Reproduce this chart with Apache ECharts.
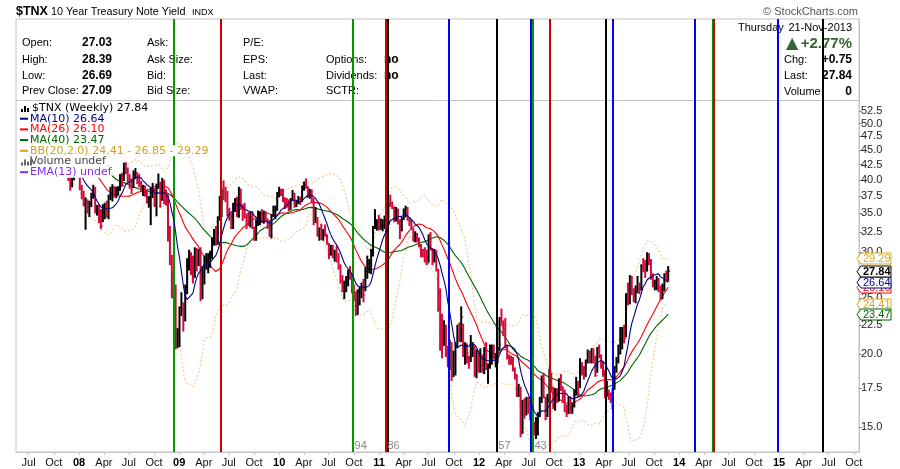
<!DOCTYPE html>
<html><head><meta charset="utf-8">
<script src="https://cdn.jsdelivr.net/npm/echarts@6/dist/echarts.min.js"></script>
<style>html,body{margin:0;padding:0;background:#fff}#c{width:900px;height:469px}</style>
</head><body><div id="c"></div>
<script>
// ---------------- DATA ----------------
// weekly bars, one per Friday starting 2007-11-16 ; values = yield x 10
const firstWeek = Date.UTC(2007, 10, 16);
// closes of the 40 weeks before the first visible bar (indicator warm-up)
const warmupCloses = [47.9,46.9,46.8,45.1,45.9,45.4,45.9,46.5,47.4,47.6,46.7,46.9,46.4,46.7,48.1,48.6,49.5,51.1,51.6,51.4,50.3,51.9,51.0,49.5,47.9,47.4,47.9,46.8,46.2,45.4,43.8,44.7,46.2,45.9,46.4,46.7,44.0,43.8,43.1,42.2];

const highs = [
  42.7,41.7,40.6,41.6,42.8,42.5,43.0,
  40.8,39.2,38.3,37.3,37.0,36.8,38.0,39.2,38.9,36.2,36.3,35.6,36.3,36.5,36.8,37.7,38.9,39.3,39.0,38.9,39.0,40.9,41.1,42.8,42.9,42.0,40.9,40.2,41.5,41.9,41.2,40.9,39.8,39.2,39.1,38.5,37.5,38.8,39.5,38.7,39.4,41.0,39.7,40.3,40.0,38.5,37.7,33.3,29.7,27.8,26.4,22.2,
  24.2,25.6,24.6,26.4,29.3,30.3,30.0,29.6,30.6,30.5,30.4,30.6,28.4,29.6,29.9,29.9,30.2,31.8,32.9,33.3,34.6,37.5,38.6,39.9,38.9,38.3,35.8,35.0,36.5,37.2,37.4,38.9,38.6,36.3,36.5,35.0,35.2,35.2,35.3,33.2,34.2,35.4,35.3,35.6,35.4,35.3,34.3,34.1,34.9,36.1,36.1,38.1,
  38.9,38.6,38.6,37.3,37.2,37.0,37.2,38.4,38.0,36.9,37.5,37.4,39.1,39.7,40.2,39.0,38.6,38.5,37.2,35.9,34.5,33.1,33.6,32.9,33.5,32.2,31.1,30.9,30.9,30.3,30.8,29.9,28.6,27.4,26.8,27.3,28.0,28.4,27.5,26.4,25.7,25.9,26.2,26.6,27.0,28.3,29.6,29.2,30.4,33.3,35.6,34.2,34.8,
  34.3,34.2,34.7,34.8,36.6,37.7,36.7,36.0,35.9,35.7,34.2,34.5,35.7,36.1,35.9,34.5,34.2,33.0,32.6,32.4,31.8,31.0,30.4,30.6,30.3,32.2,32.5,30.5,30.4,30.3,28.1,26.0,23.5,22.9,22.5,20.7,21.2,21.0,20.3,21.0,22.5,22.7,24.2,22.6,21.0,20.9,19.9,21.6,21.0,20.7,20.4,20.3,
  20.5,20.0,20.6,21.0,19.3,20.8,20.8,20.8,20.1,20.6,23.2,24.0,22.9,23.1,20.8,20.0,19.9,19.8,19.0,18.5,17.8,17.6,16.7,16.8,16.9,16.9,16.7,15.7,15.3,15.6,15.9,16.9,18.4,18.6,16.9,17.1,18.9,18.6,17.6,17.5,17.5,18.2,18.5,17.6,17.4,16.4,16.9,16.9,16.5,17.4,18.3,18.0,
  19.7,19.4,19.1,19.6,20.4,20.3,20.5,20.5,19.9,20.6,20.8,20.0,19.5,18.8,18.0,17.4,17.2,17.5,19.1,19.8,20.8,22.3,22.3,22.5,25.5,26.6,27.4,27.3,26.0,26.3,27.3,26.6,28.6,29.3,29.1,30.0,29.9,29.2,27.6,26.9,27.3,27.1,26.3,26.5,27.6,27.9,28.4
];
const lows = [
  40.6,39.8,38.3,38.8,39.9,40.9,40.7,
  38.4,37.0,36.0,32.8,35.0,34.5,35.9,37.1,35.0,34.7,33.7,32.9,33.8,34.2,34.4,34.2,36.9,36.7,37.3,37.2,37.6,38.3,38.9,39.8,40.9,39.5,38.6,37.8,38.7,40.1,39.3,38.8,38.2,37.5,37.4,36.4,35.8,33.4,37.2,35.9,34.6,38.6,35.8,36.8,36.3,36.1,31.3,28.5,25.0,24.9,20.4,20.5,
  20.6,23.3,21.9,22.8,25.4,27.9,27.4,26.5,27.1,27.8,28.4,24.7,24.9,26.4,28.0,27.6,28.2,29.2,30.8,30.8,30.9,34.0,34.5,36.9,36.6,34.6,34.0,32.9,32.9,35.2,34.5,34.4,35.5,34.0,34.3,32.9,33.3,33.1,32.9,31.4,31.4,33.3,33.4,33.7,33.6,33.8,32.9,31.9,31.7,34.5,34.2,35.4,
  37.3,37.5,36.6,35.6,35.8,35.3,35.5,36.8,35.8,35.9,36.3,36.2,36.6,38.3,38.6,37.2,37.1,36.5,33.4,33.7,31.9,31.4,31.5,31.4,31.9,30.9,29.2,29.6,29.3,28.9,28.8,28.0,26.5,25.6,24.9,25.6,26.2,26.9,25.5,24.7,23.3,23.4,24.3,25.0,24.6,25.7,27.0,27.6,27.5,29.5,32.9,32.7,32.7,
  32.8,32.6,32.9,32.8,33.4,35.9,35.6,33.8,33.9,33.5,31.6,32.6,34.1,34.5,34.0,33.3,32.8,31.3,31.2,31.2,30.6,29.4,29.4,28.8,28.5,28.8,30.2,28.5,28.8,27.8,23.7,20.3,19.7,20.7,19.8,19.0,18.8,18.0,18.3,18.4,20.5,21.0,21.0,19.8,19.2,19.3,18.9,19.4,19.8,18.3,18.2,18.6,
  18.6,18.6,18.5,18.8,17.8,18.9,19.2,19.6,19.0,19.3,20.3,22.4,21.5,20.5,19.6,19.2,19.2,18.7,18.1,16.9,16.9,14.4,14.6,15.5,15.7,15.8,15.4,14.6,14.5,14.3,14.5,15.6,16.5,16.8,15.4,15.6,16.5,17.3,16.1,16.0,16.5,16.6,17.3,16.5,15.9,15.6,15.8,15.8,15.8,16.2,17.0,16.9,
  17.5,18.4,18.1,18.3,19.3,19.3,19.3,19.3,18.3,18.6,19.7,18.9,18.3,16.8,16.9,16.7,16.5,16.1,17.4,18.6,19.3,20.0,20.4,20.9,21.4,24.3,24.4,25.3,24.6,24.5,25.5,25.4,25.8,27.7,27.1,27.8,28.5,26.9,26.1,25.8,25.8,25.6,24.8,24.9,25.7,26.8,26.7
];
const closes = [
  41.5,40.1,39.4,41.1,42.3,41.8,40.8,
  38.6,37.8,36.3,36.5,35.9,36.4,37.7,38.0,35.1,35.3,34.4,33.3,35.1,35.7,34.6,37.2,38.6,38.6,37.7,38.4,38.4,40.6,39.1,42.6,41.7,39.8,39.7,39.6,40.9,41.1,39.5,39.4,38.5,38.6,38.3,36.6,37.2,38.0,38.5,36.1,38.7,39.3,37.0,39.5,37.9,37.2,31.9,29.2,25.6,25.7,21.3,21.3,
  24.0,24.0,23.2,26.1,28.4,29.9,28.9,27.9,30.2,28.7,28.9,26.4,27.6,29.0,29.2,29.5,29.9,31.5,32.9,31.4,34.5,34.6,38.3,37.9,37.8,35.2,35.0,33.0,36.4,36.9,34.8,38.5,35.8,35.6,34.5,34.4,33.4,34.6,33.1,32.1,33.8,34.2,34.9,33.9,35.0,34.2,33.6,32.0,34.7,35.4,35.4,38.0,
  38.4,38.2,36.7,36.3,35.9,35.6,36.9,37.8,36.1,36.8,37.0,36.9,38.6,39.5,38.8,37.7,38.1,36.6,34.2,34.4,32.0,32.9,32.0,32.3,32.2,31.1,29.8,30.5,29.4,29.9,29.1,28.3,26.8,26.1,26.5,27.1,27.9,27.4,26.1,25.1,23.9,25.6,25.6,26.0,25.3,27.8,28.7,28.7,30.1,33.2,33.3,33.9,33.0,
  33.3,33.3,34.0,33.2,36.4,36.3,35.8,34.2,34.9,34.0,32.7,34.4,34.5,35.8,34.1,33.9,32.9,31.5,31.7,31.5,30.7,29.9,29.7,29.4,28.7,32.2,30.3,29.1,29.6,28.0,25.6,22.4,20.7,21.9,20.0,19.1,20.5,18.3,19.2,20.7,22.5,22.2,23.2,20.4,20.4,20.1,19.6,20.4,20.6,18.5,20.2,18.8,
  19.6,18.6,20.3,18.9,19.3,19.8,20.0,19.8,19.8,20.3,23.0,22.4,22.1,20.5,19.8,19.6,19.3,18.8,18.4,17.1,17.4,14.6,16.4,15.8,16.7,16.5,15.5,14.9,14.6,15.5,15.7,16.6,18.1,16.9,15.5,16.7,18.7,17.5,16.4,17.4,16.6,17.7,17.6,17.2,16.1,15.8,16.9,16.2,16.3,17.0,17.7,17.0,
  19.0,18.7,18.4,19.5,20.2,19.5,20.0,19.6,18.4,20.5,19.9,19.3,18.5,17.1,17.2,17.0,16.6,17.4,19.0,19.5,20.1,21.3,21.7,21.3,25.3,24.9,27.2,25.9,24.8,25.6,26.0,25.8,28.3,28.2,27.8,29.4,28.8,27.3,26.2,26.5,26.9,25.9,25.1,26.2,27.5,27.0,27.84
];

// values shown in the legend / right-axis tags
const lastClose = 27.84, ma10Last = 26.64, ma26Last = 26.10, ma40Last = 23.47;
const bbLower = 24.41, bbMid = 26.85, bbUpper = 29.29;

// y-axis tick labels (log scale)
const yTickValues = [15,17.5,20,22.5,25,27.5,30,32.5,35,37.5,40,42.5,45,47.5,50,52.5];
const monthNames = {3:'Apr', 6:'Jul', 9:'Oct'};

// vertical cycle lines: date, colour
const cycleLines = [
  ['2008-12-13','#009900'],['2009-06-03','#cc0000'],['2010-09-28','#009900'],
  ['2011-01-26','#cc0000'],['2011-02-02','#000000'],['2011-09-13','#0000ff'],
  ['2012-03-06','#000000'],['2012-07-09','#0000ff'],['2012-07-16','#009900'],
  ['2012-09-16','#cc0000'],['2013-04-09','#000000'],['2013-05-04','#0000ff'],
  ['2014-02-28','#0000ff'],['2014-05-05','#009900'],['2014-05-08','#cc0000'],
  ['2014-12-27','#0000ff'],['2015-06-10','#000000']
];
// small counts printed at the foot of some lines
const cycleCounts = [['2010-09-28','94'],['2011-01-26','86'],['2012-03-06','57'],['2012-07-16','43']];

// ---------------- BUILD ----------------
const DAY = 864e5, YEAR = 365.25 * DAY;
const xMin = Date.UTC(2008,0,1) - 0.63 * YEAR;
const xMax = xMin + 8.43 * YEAR;
const yMin = Math.log(13.58), yMax = Math.log(75.7);
const L = Math.log;
const parseD = s => Date.UTC(+s.slice(0,4), +s.slice(5,7)-1, +s.slice(8,10));

const n = closes.length;
const dates = closes.map((_, i) => firstWeek + i * 7 * DAY);
const allC = warmupCloses.concat(closes);
const W = warmupCloses.length;
function sma(k, p){ let s=0; for(let j=k-p+1;j<=k;j++) s+=allC[j]; return s/p; }
function sd(k, p, m){ let s=0; for(let j=k-p+1;j<=k;j++) s+=(allC[j]-m)*(allC[j]-m); return Math.sqrt(s/p); }

const barData = [], ma10=[], ma26=[], ma40=[], bbU=[], bbL=[];
for (let i=0;i<n;i++){
  const k = W + i;
  const up = allC[k] >= allC[k-1] ? 1 : 0;
  barData.push([dates[i], L(lows[i]), L(highs[i]), L(closes[i]), up]);
  ma10.push([dates[i], L(sma(k,10))]);
  ma26.push([dates[i], L(sma(k,26))]);
  ma40.push([dates[i], L(sma(k,40))]);
  const m20 = sma(k,20), s20 = sd(k,20,m20);
  bbU.push([dates[i], L(m20 + 2*s20)]);
  bbL.push([dates[i], L(m20 - 2*s20)]);
}

// x ticks every quarter
const xTicks = [], xLabelMap = {};
for (let y=2007; y<=2015; y++) for (let m=0;m<12;m+=3){
  const t = Date.UTC(y,m,1);
  if (t < xMin || t > xMax) continue;
  xTicks.push(t);
  xLabelMap[t] = m === 0 ? '{y|' + String(y).slice(2) + '}' : monthNames[m];
}

const FONT = '"Liberation Sans", Arial, sans-serif';
const LFONT = '"DejaVu Sans", Verdana, sans-serif';

const tags = [
  {v: bbUpper, c:'#daa520'}, {v: ma26Last, c:'#ff0000'}, {v: ma10Last, c:'#000080'},
  {v: lastClose, c:'#000000', b:true}, {v: bbLower, c:'#daa520'}, {v: ma40Last, c:'#006400'}
];

// ---------------- GRAPHICS (panel, legend) ----------------
function txt(x,y,text,opt){
  opt = opt||{};
  const st = {text, fill: opt.fill||'#000',
    font: (opt.bold?'bold ':'') + (opt.size||11) + 'px ' + (opt.family||FONT),
    align: opt.align||'left', verticalAlign:'middle'};
  if (opt.bg) { st.backgroundColor = opt.bg; st.lineHeight = opt.lh; }
  return {type:'text', x, y, z: opt.z||0, style:st};
}
const g = [];
g.push(txt(16,12,'$TNX',{bold:true,size:12.5}));
g.push(txt(51,12,'10 Year Treasury Note Yield',{size:10.8}));
g.push(txt(192,13,'INDX',{size:9}));
g.push(txt(858,12,'\u00A9 StockCharts.com',{size:11,fill:'#555',align:'right'}));
g.push({type:'line', z:1, shape:{x1:16,y1:100.5,x2:859,y2:100.5}, style:{stroke:'#c4c4c4',lineWidth:1}});
const rowsY = [43,60,76,91];
[['Open:','27.03'],['High:','28.39'],['Low:','26.69'],['Prev Close:','27.09']].forEach((r,i)=>{
  g.push(txt(22,rowsY[i],r[0])); g.push(txt(82,rowsY[i],r[1],{bold:true,size:12}));
});
['Ask:','Ask Size:','Bid:','Bid Size:'].forEach((s,i)=>g.push(txt(147,rowsY[i],s)));
['P/E:','EPS:','Last:','VWAP:'].forEach((s,i)=>g.push(txt(243,rowsY[i],s)));
g.push(txt(326,rowsY[1],'Options:')); g.push(txt(326,rowsY[2],'Dividends:')); g.push(txt(326,rowsY[3],'SCTR:'));
g.push(txt(384,rowsY[1],'no',{bold:true,size:12})); g.push(txt(384,rowsY[2],'no',{bold:true,size:12}));
g.push(txt(738,28,'Thursday')); g.push(txt(852,28,'21-Nov-2013',{align:'right'}));
g.push(txt(786,44,'\u25B2',{size:16,fill:'#336633',family:LFONT}));
g.push(txt(852,44,'+2.77%',{bold:true,size:15,fill:'#336633',align:'right'}));
g.push(txt(784,60,'Chg:')); g.push(txt(852,60,'+0.75',{bold:true,size:12,align:'right'}));
g.push(txt(784,76,'Last:')); g.push(txt(852,76,'27.84',{bold:true,size:12,align:'right'}));
g.push(txt(784,92,'Volume:')); g.push(txt(852,92,'0',{bold:true,size:12,align:'right'}));

// legend rows
const legRows = [
  ['$TNX (Weekly) ' + lastClose.toFixed(2), '#000000', 'bars'],
  ['MA(10) ' + ma10Last.toFixed(2), '#000080', 'line'],
  ['MA(26) ' + ma26Last.toFixed(2), '#ff0000', 'line'],
  ['MA(40) ' + ma40Last.toFixed(2), '#006400', 'line'],
  ['BB(20,2.0) ' + bbLower.toFixed(2) + ' - ' + bbMid.toFixed(2) + ' - ' + bbUpper.toFixed(2), '#d4a020', 'line'],
  ['Volume undef', '#444444', 'vol'],
  ['EMA(13) undef', '#8a2be2', 'line']
];
legRows.forEach((r,i)=>{
  const y = 108 + i*10.7;
  g.push({type:'rect', z:60, shape:{x:18,y:y-5.5,width:12,height:11}, style:{fill:'#fff'}});
  g.push(txt(r[2]==='bars'?32:30, y, r[0], {fill:r[1], size:11, family:LFONT, z:60, bg:'#fff', lh:11}));
  if (r[2]==='line') g.push({type:'line', z:61, shape:{x1:20,y1:y,x2:28,y2:y}, style:{stroke:r[1],lineWidth:2}});
  else {
    const col = r[2]==='bars' ? '#000' : '#666';
    [[21,3],[24,6],[27,4],[30,7]].forEach(b=>{
      if (r[2]==='bars' && b[0]===30) return;
      g.push({type:'rect', z:61, shape:{x:b[0], y:y+4-b[1], width:2, height:b[1]}, style:{fill:col}});
    });
  }
});

// ---------------- CHART ----------------
const chart = echarts.init(document.getElementById('c'), null, {renderer:'canvas'});
chart.setOption({
  animation:false,
  backgroundColor:'#fff',
  grid:{left:16, right:41, top:19, bottom:17, show:true, borderColor:'#c4c4c4', borderWidth:1},
  xAxis:{type:'value', min:xMin, max:xMax, scale:true,
    axisLine:{show:true, lineStyle:{color:'#c4c4c4'}},
    axisTick:{show:true, customValues:xTicks, length:3, lineStyle:{color:'#c4c4c4'}},
    splitLine:{show:false},
    axisLabel:{customValues:xTicks, margin:5, fontSize:11, fontFamily:FONT, color:'#111',
      formatter:v=>xLabelMap[v]||'', rich:{y:{fontWeight:'bold', fontSize:11, fontFamily:FONT, color:'#000'}}}},
  yAxis:{type:'value', position:'right', min:yMin, max:yMax, scale:true,
    axisLine:{show:true, lineStyle:{color:'#c4c4c4'}},
    axisTick:{show:true, customValues:yTickValues.map(L), length:3, lineStyle:{color:'#888'}},
    splitLine:{show:false},
    axisLabel:{customValues:yTickValues.map(L), margin:2, fontSize:11, fontFamily:FONT, color:'#222',
      formatter:v=>Math.exp(v).toFixed(1)}},
  graphic:g,
  series:[
    {type:'line', name:'BBU', data:bbU, showSymbol:false, z:2, lineStyle:{color:'#f0cd98', width:1.2, type:[2,2]}},
    {type:'line', name:'BBL', data:bbL, showSymbol:false, z:2, lineStyle:{color:'#f0cd98', width:1.2, type:[2,2]}},
    {type:'line', name:'MA40', data:ma40, showSymbol:false, z:3, lineStyle:{color:'#006400', width:1.1}},
    {type:'line', name:'MA26', data:ma26, showSymbol:false, z:3, lineStyle:{color:'#ff0000', width:1.1}},
    {type:'custom', name:'bars', data:barData, z:4, encode:{x:0, y:[1,2]},
      renderItem:(p, api)=>{
        const t = api.value(0);
        const lo = api.coord([t, api.value(1)]), hi = api.coord([t, api.value(2)]), cl = api.coord([t, api.value(3)]);
        const col = api.value(4) ? '#000000' : '#d40a3c';
        return {type:'group', children:[
          {type:'rect', shape:{x:lo[0]-1, y:hi[1], width:2, height:Math.max(1, lo[1]-hi[1])}, style:{fill:col}},
          {type:'rect', shape:{x:lo[0]+1, y:cl[1]-0.6, width:1, height:1.2}, style:{fill:col}}
        ]};
      }},
    {type:'line', name:'MA10', data:ma10, showSymbol:false, z:5, lineStyle:{color:'#000080', width:1.1}},
    {type:'custom', name:'counts', z:6, data:cycleCounts.map(c=>[parseD(c[0]), yMin]),
      renderItem:(p, api)=>{
        const pt = api.coord([api.value(0), api.value(1)]);
        return {type:'text', x:pt[0]+1.5, y:pt[1]-1, style:{text:cycleCounts[p.dataIndex][1], fill:'#888',
          font:'11px '+FONT, verticalAlign:'bottom'}};
      }},
    {type:'line', name:'cycles', data:[[dates[0], L(closes[0])]], showSymbol:false, z:8,
      lineStyle:{opacity:0},
      markLine:{silent:true, symbol:['none','none'], label:{show:false}, animation:false,
        data:cycleLines.map(c=>({xAxis:parseD(c[0]), lineStyle:{color:c[1], width:2, type:'solid'}}))}},
    {type:'custom', name:'tags', z:10, clip:false, data:tags.map(t=>[xMax, L(t.v)]),
      renderItem:(p, api)=>{
        const t = tags[p.dataIndex];
        const pt = api.coord([api.value(0), api.value(1)]);
        const x = pt[0], y = Math.round(pt[1]) + 0.5;
        return {type:'group', children:[
          {type:'polygon', shape:{points:[[x-2,y],[x+2,y-5.5],[x+32,y-5.5],[x+32,y+5.5],[x+2,y+5.5]]},
            style:{fill:'#fff', stroke:t.c, lineWidth:1}},
          {type:'text', x:x+4, y:y+0.5, style:{text:t.v.toFixed(2), fill:t.c,
            font:(t.b?'bold ':'')+'11px '+FONT, verticalAlign:'middle'}}
        ]};
      }}
  ]
});
</script></body></html>
